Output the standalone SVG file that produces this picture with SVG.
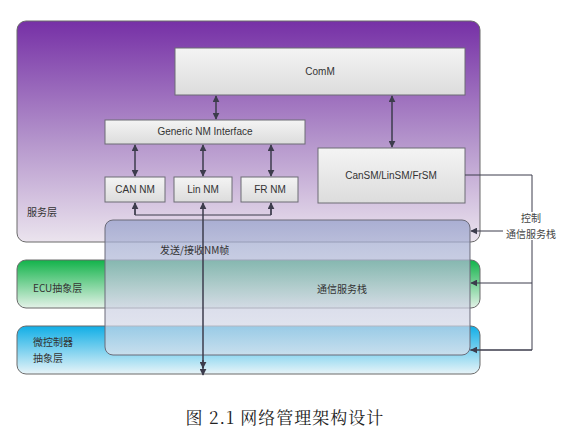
<svg xmlns="http://www.w3.org/2000/svg" width="572" height="437" viewBox="0 0 572 437">
<defs>
<linearGradient id="gSvc" x1="0" y1="0" x2="0" y2="1"><stop offset="0" stop-color="#7630a6"/><stop offset="0.55" stop-color="#b596cc"/><stop offset="1" stop-color="#ebe4ee"/></linearGradient>
<linearGradient id="gEcu" x1="0" y1="0" x2="0" y2="1"><stop offset="0" stop-color="#12b34a"/><stop offset="1" stop-color="#e4f2e8"/></linearGradient>
<linearGradient id="gMcu" x1="0" y1="0" x2="0" y2="1"><stop offset="0" stop-color="#10aee6"/><stop offset="1" stop-color="#e8f4f8"/></linearGradient>
<linearGradient id="gBox" x1="0" y1="0" x2="0" y2="1"><stop offset="0" stop-color="#f4f4f4"/><stop offset="1" stop-color="#dcdcdc"/></linearGradient>
<linearGradient id="gStack" x1="0" y1="0" x2="0" y2="1"><stop offset="0" stop-color="#98a2cc" stop-opacity="0.75"/><stop offset="0.5" stop-color="#c4c9df" stop-opacity="0.7"/><stop offset="1" stop-color="#dfe2ec" stop-opacity="0.7"/></linearGradient>
<marker id="ah" viewBox="0 0 10 10" refX="9" refY="5" markerWidth="7" markerHeight="7" orient="auto-start-reverse" markerUnits="userSpaceOnUse"><path d="M0,0 L10,5 L0,10 z" fill="#3c3c4c"/></marker>
</defs>
<style>
.layer{stroke:#6a6a6a;stroke-width:1}
.box{fill:url(#gBox);stroke:#6c6c74;stroke-width:1}
.t{font-family:"Liberation Sans","Noto Sans CJK SC",sans-serif;font-size:10px;fill:#333;text-anchor:middle}
.tl{font-family:"Noto Sans CJK SC",sans-serif;font-size:10px;fill:#333}
.c{font-family:"Noto Sans CJK SC",sans-serif;font-size:10px;fill:#444;text-anchor:middle}
.ln{stroke:#3c3c4c;stroke-width:1.5;fill:none}
.lr{stroke:#3c3c4c;stroke-width:1;fill:none}
</style>
<rect width="572" height="437" fill="#fff"/>
<g id="service-layer"><rect class="layer" x="17" y="21" width="463" height="221" rx="9" fill="url(#gSvc)"/><text class="tl" x="27" y="216">服务层</text></g>
<g id="ecu-layer"><rect class="layer" x="17" y="260" width="463" height="48" rx="9" fill="url(#gEcu)"/><text class="tl" x="33" y="292">ECU抽象层</text></g>
<g id="mcu-layer"><rect class="layer" x="17" y="326" width="463" height="48" rx="9" fill="url(#gMcu)"/><text class="tl" x="33" y="346">微控制器</text><text class="tl" x="33" y="362">抽象层</text></g>
<g id="comm"><rect class="box" x="175" y="48" width="290" height="47"/><text class="t" x="320" y="75">ComM</text></g>
<g id="generic-nm"><rect class="box" x="105" y="120" width="200" height="24"/><text class="t" x="205" y="135">Generic NM Interface</text></g>
<g id="can-nm"><rect class="box" x="105" y="177" width="60" height="25"/><text class="t" x="135" y="193">CAN NM</text></g>
<g id="lin-nm"><rect class="box" x="174" y="177" width="58" height="25"/><text class="t" x="203" y="193">Lin NM</text></g>
<g id="fr-nm"><rect class="box" x="241" y="177" width="57" height="25"/><text class="t" x="270" y="193">FR NM</text></g>
<g id="sm"><rect class="box" x="318" y="148" width="147" height="55"/><text class="t" x="391" y="179">CanSM/LinSM/FrSM</text></g>
<g id="stack"><rect x="105" y="220" width="365" height="135" rx="8" fill="url(#gStack)" stroke="#6a6a78" stroke-width="1"/><text class="tl" x="160" y="254">发送/接收NM帧</text><text class="tl" x="317" y="293">通信服务栈</text></g>
<g id="connectors">
<line class="ln" x1="216" y1="96" x2="216" y2="119" marker-start="url(#ah)" marker-end="url(#ah)"/>
<line class="ln" x1="392" y1="96" x2="392" y2="147" marker-start="url(#ah)" marker-end="url(#ah)"/>
<line class="ln" x1="135" y1="145" x2="135" y2="176" marker-start="url(#ah)" marker-end="url(#ah)"/>
<line class="ln" x1="203" y1="145" x2="203" y2="176" marker-start="url(#ah)" marker-end="url(#ah)"/>
<line class="ln" x1="271" y1="145" x2="271" y2="176" marker-start="url(#ah)" marker-end="url(#ah)"/>
<polyline class="lr" points="135,203 135,215 271,215 271,203"/>
<line class="ln" x1="135" y1="215" x2="135" y2="203" marker-end="url(#ah)"/>
<line class="ln" x1="271" y1="215" x2="271" y2="203" marker-end="url(#ah)"/>
<line class="ln" x1="203" y1="368" x2="203" y2="203" marker-end="url(#ah)"/>
<line class="ln" x1="203" y1="360" x2="203" y2="375" marker-end="url(#ah)"/>
<line class="ln" x1="203" y1="362" x2="203" y2="368" marker-end="url(#ah)"/>
<polyline class="lr" points="465,175 532,175 532,212"/>
<polyline class="lr" points="532,240 532,350 470,350"/>
<line class="lr" x1="532" y1="350" x2="471" y2="350" marker-end="url(#ah)"/>
<line class="lr" x1="532" y1="283" x2="471" y2="283" marker-end="url(#ah)"/>
<line class="lr" x1="503" y1="231" x2="471" y2="231" marker-end="url(#ah)"/>
<text class="c" x="531" y="222">控制</text>
<text class="c" x="531" y="238">通信服务栈</text>
</g>
<text x="285" y="424" font-family="Noto Serif CJK SC,Liberation Serif,serif" font-size="17" letter-spacing="1" fill="#222" text-anchor="middle">图 2.1 网络管理架构设计</text>
</svg>
